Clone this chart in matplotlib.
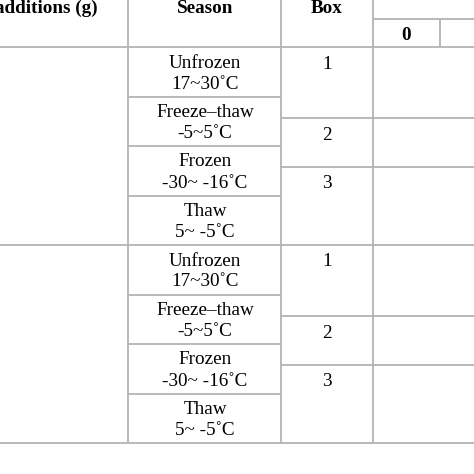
import matplotlib
matplotlib.use('Agg')
import matplotlib.pyplot as plt

# table contents
header = ['additions (g)', 'Season', 'Box']
sub_header = ['0', '1']
seasons = ['Unfrozen', 'Freeze\u2013thaw', 'Frozen', 'Thaw']
temps = ['17~30\u02daC', '-5~5\u02daC', '-30~ -16\u02daC', '5~ -5\u02daC']
boxes = ['1', '2', '3']
n_groups = 2

plt.rcParams['font.family'] = ['Liberation Serif', 'DejaVu Serif']
fig = plt.figure(figsize=(4.74, 4.74), dpi=100)
ax = fig.add_axes([0, 0, 1, 1])
ax.set_xlim(0, 474)
ax.set_ylim(474, 0)
ax.axis('off')

lc = '#b3b3b3'
lw = 1.3
fs = 13.8

def hl(y, x0, x1):
    ax.plot([x0, x1], [y, y], color=lc, lw=lw, solid_capstyle='butt')

def vl(x, y0, y1):
    ax.plot([x, x], [y0, y1], color=lc, lw=lw, solid_capstyle='butt')

x_cols = [128, 281, 373]
top, head_bot = 0, 47
row_h = 49.5
grp_h = 4 * row_h

# header
ax.text(46, 8, header[0], ha='center', va='center', fontsize=fs, fontweight='bold')
ax.text(205, 8, header[1], ha='center', va='center', fontsize=fs, fontweight='bold')
ax.text(327, 8, header[2], ha='center', va='center', fontsize=fs, fontweight='bold')
ax.text(406, 35, sub_header[0], ha='center', va='center', fontsize=fs, fontweight='bold')
ax.text(478, 35, sub_header[1], ha='center', va='center', fontsize=fs, fontweight='bold')
hl(19, 373, 474)
vl(440, 19, head_bot)
hl(head_bot, 0, 474)

box_lines = [71, 120]
box_text_y = [17, 88, 137]

for g in range(n_groups):
    y0 = head_bot + g * grp_h
    y1 = y0 + grp_h
    for x in x_cols:
        vl(x, top if g == 0 else y0, y1)
    for i, (s, t) in enumerate(zip(seasons, temps)):
        ry = y0 + i * row_h
        ax.text(205, ry + 16, s, ha='center', va='center', fontsize=fs)
        ax.text(205, ry + 37, t, ha='center', va='center', fontsize=fs)
        if i > 0:
            hl(ry, 128, 281)
    for b in box_lines:
        hl(y0 + b, 281, 474)
    for b, by in zip(boxes, box_text_y):
        ax.text(327, y0 + by, b, ha='center', va='center', fontsize=fs)
    hl(y1, 0, 474)

fig.savefig('out.png', dpi=100, facecolor='white')
